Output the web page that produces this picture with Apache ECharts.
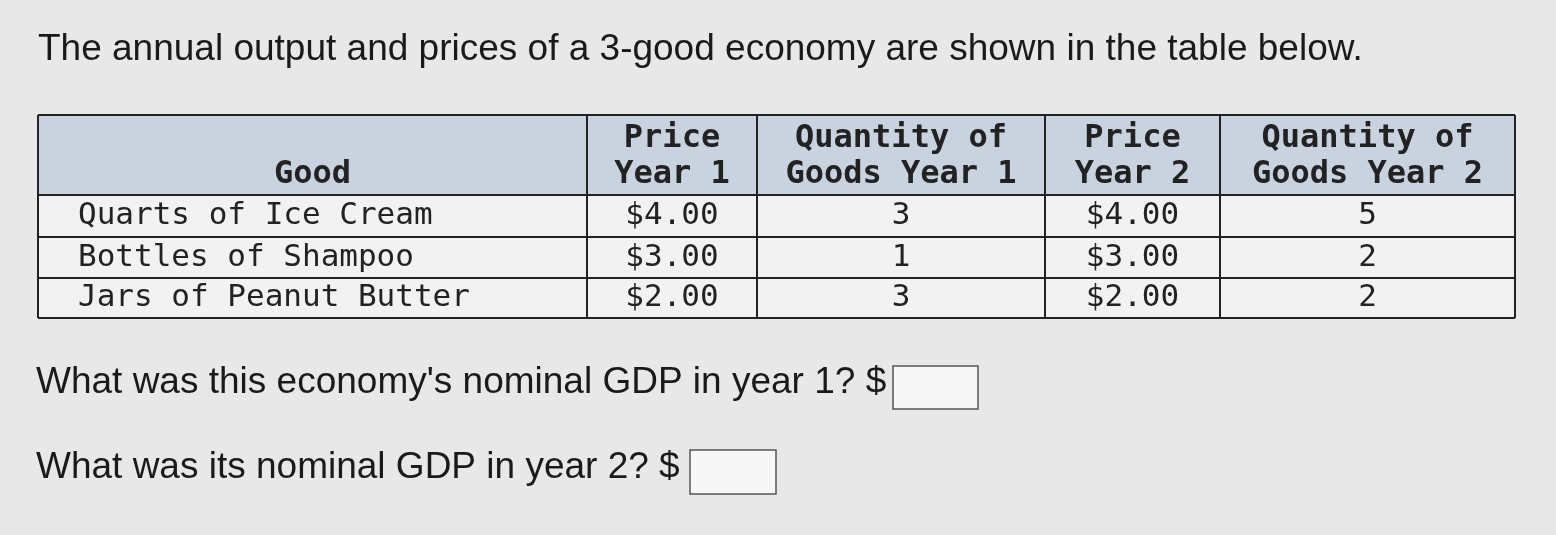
<!DOCTYPE html>
<html><head><meta charset="utf-8">
<script src="https://cdn.jsdelivr.net/npm/echarts@6/dist/echarts.min.js"></script>
<style>html,body{margin:0;padding:0;background:#e6e6e6}#c{width:1556px;height:535px}</style>
</head><body><div id="c"></div>
<script>
var title = "The annual output and prices of a 3-good economy are shown in the table below.";
var headers = [["Good"],["Price","Year 1"],["Quantity of","Goods Year 1"],["Price","Year 2"],["Quantity of","Goods Year 2"]];
var goods = ["Quarts of Ice Cream","Bottles of Shampoo","Jars of Peanut Butter"];
var priceY1 = ["$4.00","$3.00","$2.00"];
var qtyY1 = [3,1,3];
var priceY2 = ["$4.00","$3.00","$2.00"];
var qtyY2 = [5,2,2];
var questions = ["What was this economy's nominal GDP in year 1? $","What was its nominal GDP in year 2? $"];

var colX = [38,587,757,1045,1220,1515];
var rowY = [115,195,237,278,318];
var mono = "'DejaVu Sans Mono', monospace";
var els = [];
els.push({type:'rect',shape:{x:0,y:0,width:1556,height:535},style:{fill:'#e8e8e8'}});
els.push({type:'text',style:{text:title,x:38,y:50,font:"37px 'Liberation Sans', Arial",fill:'#1a1a1a',textVerticalAlign:'middle'}});
els.push({type:'rect',shape:{x:colX[0],y:rowY[0],width:colX[5]-colX[0],height:rowY[1]-rowY[0]},style:{fill:'#c9d3df'}});
els.push({type:'rect',shape:{x:colX[0],y:rowY[1],width:colX[5]-colX[0],height:rowY[4]-rowY[1]},style:{fill:'#f2f2f2'}});
headers.forEach(function(h,i){
  var cx=(colX[i]+colX[i+1])/2;
  h.forEach(function(line,j){
    var y = h.length===1 ? 175 : 139+j*36;
    els.push({type:'text',style:{text:line,x:cx,y:y,font:"bold 32px "+mono,fill:'#222',textAlign:'center',textVerticalAlign:'middle'}});
  });
});
var cols=[priceY1,qtyY1,priceY2,qtyY2];
goods.forEach(function(g,r){
  var cy=(rowY[r+1]+rowY[r+2])/2;
  els.push({type:'text',style:{text:g,x:78,y:cy,font:"31px "+mono,fill:'#222',textVerticalAlign:'middle'}});
  cols.forEach(function(c,i){
    els.push({type:'text',style:{text:String(c[r]),x:(colX[i+1]+colX[i+2])/2,y:cy,font:"31px "+mono,fill:'#222',textAlign:'center',textVerticalAlign:'middle'}});
  });
});
colX.forEach(function(x){els.push({type:'line',shape:{x1:x,y1:rowY[0],x2:x,y2:rowY[4]},style:{stroke:'#222',lineWidth:2}});});
rowY.forEach(function(y){els.push({type:'line',shape:{x1:colX[0],y1:y,x2:colX[5],y2:y},style:{stroke:'#222',lineWidth:2}});});
var qy=[383,468], boxes=[[893,366,85,43],[690,450,86,44]];
questions.forEach(function(q,i){
  els.push({type:'text',style:{text:q,x:36,y:qy[i],font:"37px 'Liberation Sans', Arial",fill:'#1a1a1a',textVerticalAlign:'middle'}});
  var b=boxes[i];
  els.push({type:'rect',shape:{x:b[0],y:b[1],width:b[2],height:b[3]},style:{fill:'#f7f7f7',stroke:'#555',lineWidth:1.5}});
});
var chart=echarts.init(document.getElementById('c'));
chart.setOption({animation:false,graphic:{elements:els}});
</script></body></html>
